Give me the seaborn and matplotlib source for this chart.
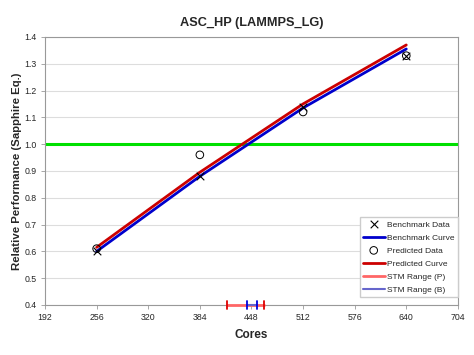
import matplotlib
matplotlib.use("Agg")
import matplotlib.pyplot as plt
import numpy as np
import pandas as pd
import seaborn as sns

CORES = [256, 384, 512, 640]
BENCH_DATA = [0.60, 0.88, 1.14, 1.33]
PRED_DATA = [0.61, 0.96, 1.12, 1.33]
BENCH_CURVE = [0.600, 0.880, 1.135, 1.355]
PRED_CURVE = [0.615, 0.895, 1.150, 1.370]
STM_P = [418, 463]
STM_B = [443, 455]
BASELINE = 1.0

sns.set_theme(style="whitegrid")
plt.rcParams["font.family"] = ["Liberation Sans", "DejaVu Sans"]

fig, ax = plt.subplots(figsize=(4.74, 3.55), dpi=100)
fig.subplots_adjust(left=0.095, right=0.966, top=0.896, bottom=0.141)

curves = pd.DataFrame({"Cores": CORES, "Benchmark": BENCH_CURVE, "Predicted": PRED_CURVE})
ax.axhline(BASELINE, color="#00e000", lw=2.2, zorder=2)
sns.scatterplot(x=CORES, y=BENCH_DATA, marker="x", color="black", s=30, linewidth=0.8,
                ax=ax, label="Benchmark Data", zorder=5)
sns.lineplot(data=curves, x="Cores", y="Benchmark", color="#0000cc", lw=2, ax=ax,
             label="Benchmark Curve", zorder=3)
ax.scatter(CORES, PRED_DATA, marker="o", facecolors="none", edgecolors="black", s=30,
           linewidths=0.7, label="Predicted Data", zorder=5)
sns.lineplot(data=curves, x="Cores", y="Predicted", color="#cc0000", lw=2, ax=ax,
             label="Predicted Curve", zorder=3)
ax.plot(STM_P, [0.4, 0.4], color="#ff6666", lw=2, label="STM Range (P)", zorder=6, clip_on=False)
ax.plot(STM_B, [0.4, 0.4], color="#6666cc", lw=1.5, label="STM Range (B)", zorder=7, clip_on=False)
for x in STM_P:
    ax.plot([x, x], [0.385, 0.415], color="#dd0000", lw=1.3, zorder=8, clip_on=False)
for x in STM_B:
    ax.plot([x, x], [0.385, 0.415], color="#0000dd", lw=1.3, zorder=8, clip_on=False)

ax.set_xlim(192, 704)
ax.set_ylim(0.4, 1.4)
ax.set_xticks(np.arange(192, 705, 64))
ax.set_yticks(np.round(np.arange(0.4, 1.41, 0.1), 1))
ax.yaxis.set_major_formatter(matplotlib.ticker.FormatStrFormatter("%.1f"))
ax.grid(axis="x", visible=False)
ax.grid(axis="y", color="#dddddd", lw=0.8)
ax.set_axisbelow(True)
ax.tick_params(labelsize=6.3, pad=3, bottom=True, left=True, length=3, width=0.6,
               color="#999999")
for s in ax.spines.values():
    s.set_color("#999999"); s.set_linewidth(0.8); s.set_zorder(4)
ax.set_xlabel("Cores", fontsize=8.5, fontweight="bold", labelpad=5)
ax.set_ylabel("Relative Performance (Sapphire Eq.)", fontsize=8.2, fontweight="bold", labelpad=2)
ax.set_title("ASC_HP (LAMMPS_LG)", fontsize=9.2, fontweight="bold", pad=8)
leg = ax.legend(loc="lower right", fontsize=6, frameon=True, fancybox=False, framealpha=1,
                edgecolor="#cccccc", handlelength=2.6, borderpad=0.4, labelspacing=0.62,
                handletextpad=0.3, borderaxespad=0, bbox_to_anchor=(1.0, 0.03))
fig.savefig("out.png", dpi=100)
